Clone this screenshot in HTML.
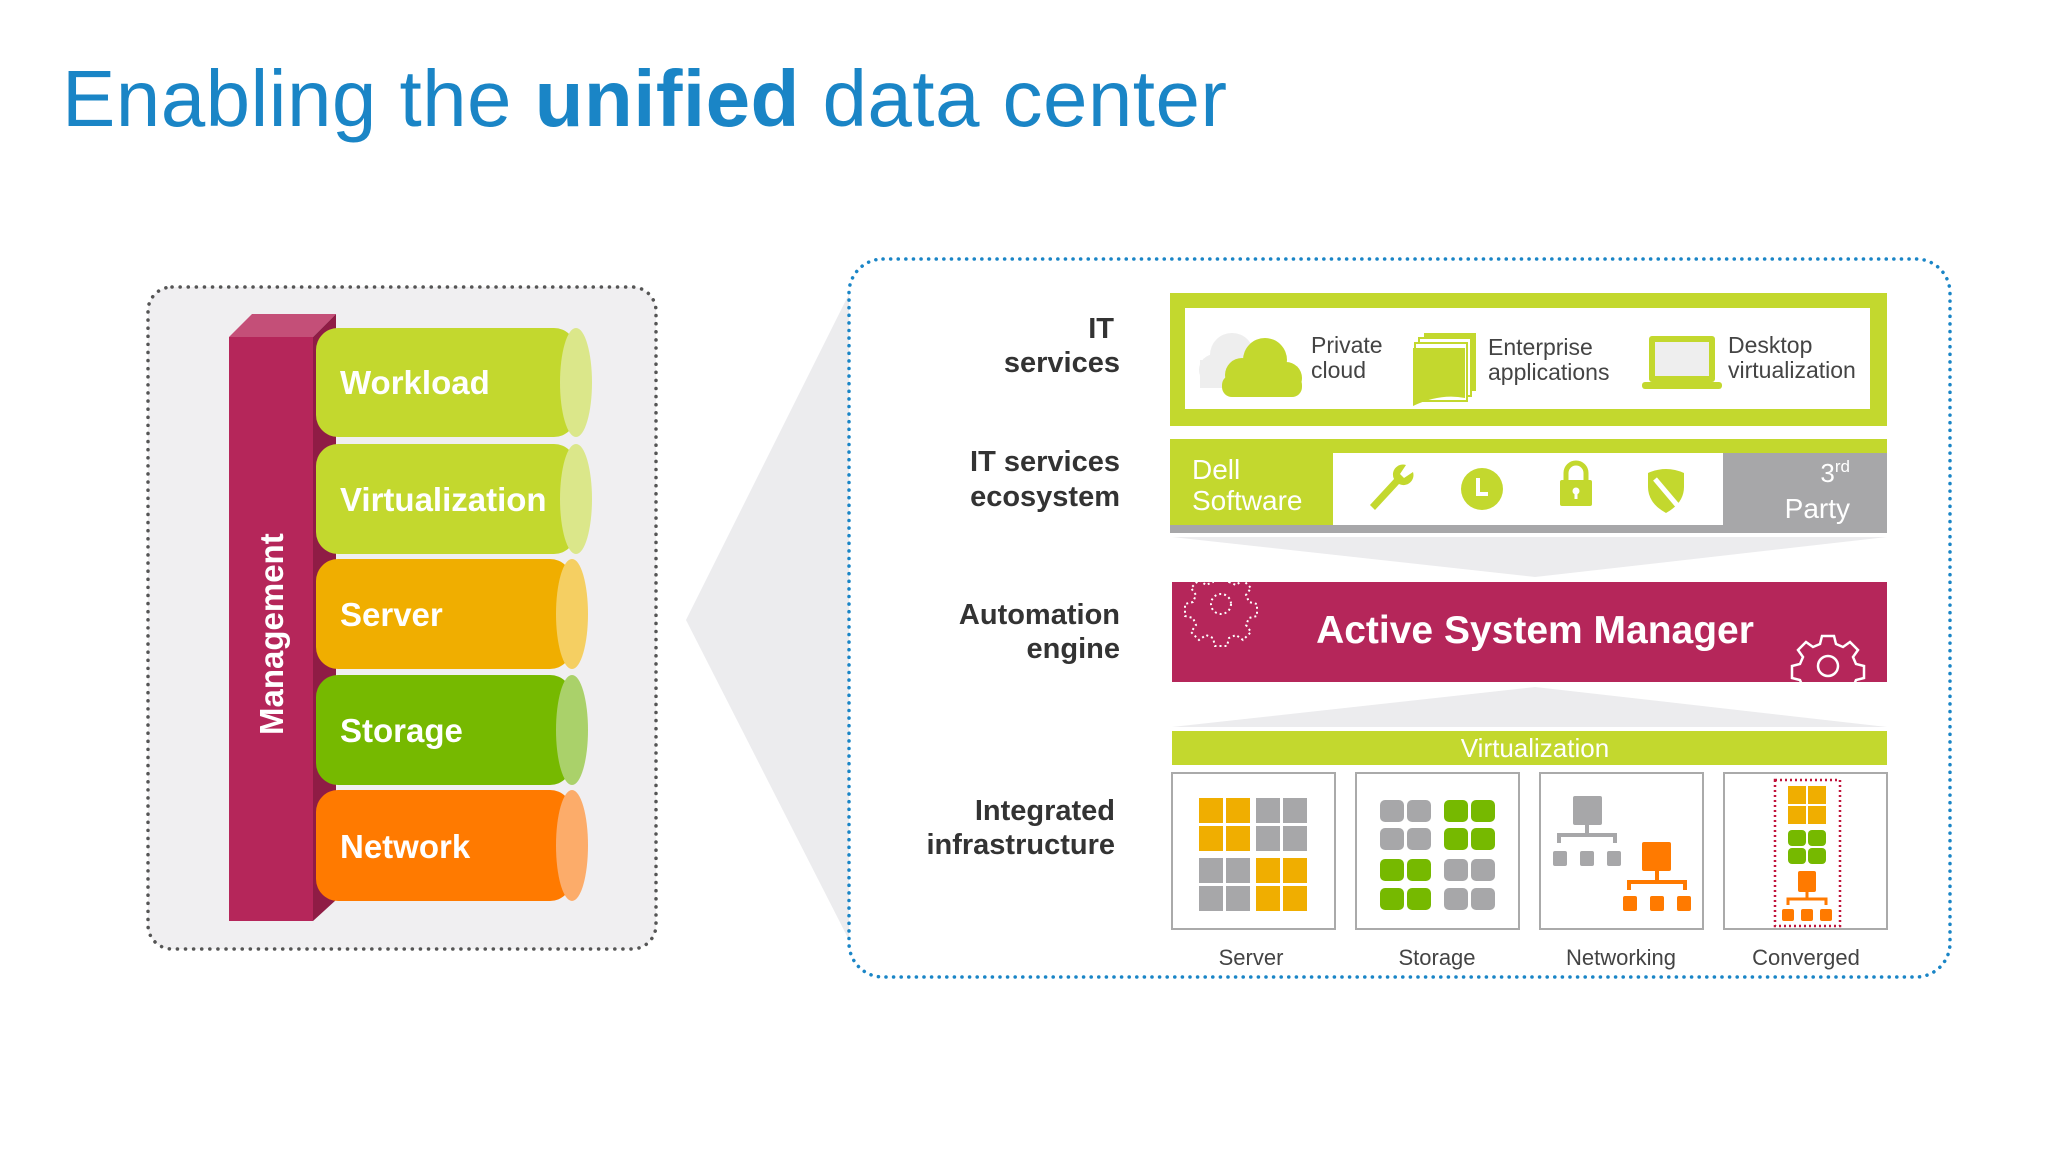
<!DOCTYPE html>
<html><head><meta charset="utf-8"><style>
html,body{margin:0;padding:0;background:#fff;}
svg{display:block;}
text{font-family:"Liberation Sans",sans-serif;}
</style></head><body>
<svg width="2048" height="1152" viewBox="0 0 2048 1152" xmlns="http://www.w3.org/2000/svg">
<rect width="2048" height="1152" fill="#ffffff"/>
<!-- title -->
<text x="62" y="126" font-size="80" fill="#1a85c6" textLength="1165" lengthAdjust="spacing">Enabling the <tspan font-weight="bold">unified</tspan> data center</text>

<!-- funnel -->
<polygon points="686,620 849,294 849,940" fill="#ececee"/>

<!-- left box -->
<rect x="148" y="287" width="508" height="662" rx="24" fill="#f0eff1" stroke="#555" stroke-width="3.5" stroke-dasharray="0.1 8" stroke-linecap="round"/>
<!-- management bar -->
<polygon points="229,337 252,314 336,314 313,337" fill="#c44f78"/>
<polygon points="313,337 336,314 336,900 313,921" fill="#8f1c45"/>
<rect x="229" y="337" width="84" height="584" fill="#b5265a"/>
<text transform="translate(283,735) rotate(-90)" font-size="33" font-weight="bold" fill="#fff">Management</text>

<!-- cylinders -->
<g>
<rect x="316" y="328" width="260" height="109" rx="22" fill="#c3d82e"/>
<ellipse cx="576" cy="382.5" rx="16" ry="54.5" fill="#dbe78a"/>
<text x="340" y="394" font-size="33" font-weight="bold" fill="#fff">Workload</text>

<rect x="316" y="444" width="260" height="110" rx="22" fill="#c3d82e"/>
<ellipse cx="576" cy="499" rx="16" ry="55" fill="#dbe78a"/>
<text x="340" y="511" font-size="33" font-weight="bold" fill="#fff">Virtualization</text>

<rect x="316" y="559" width="256" height="110" rx="22" fill="#f0ae00"/>
<ellipse cx="572" cy="614" rx="16" ry="55" fill="#f5cf62"/>
<text x="340" y="626" font-size="33" font-weight="bold" fill="#fff">Server</text>

<rect x="316" y="675" width="256" height="110" rx="22" fill="#76b900"/>
<ellipse cx="572" cy="730" rx="16" ry="55" fill="#aad16a"/>
<text x="340" y="742" font-size="33" font-weight="bold" fill="#fff">Storage</text>

<rect x="316" y="790" width="256" height="111" rx="22" fill="#ff7a00"/>
<ellipse cx="572" cy="845.5" rx="16" ry="55.5" fill="#fcac6a"/>
<text x="340" y="858" font-size="33" font-weight="bold" fill="#fff">Network</text>
</g>

<!-- right box -->
<rect x="849" y="259" width="1101" height="718" rx="34" fill="none" stroke="#1a85c6" stroke-width="3.5" stroke-dasharray="0.1 7.5" stroke-linecap="round"/>

<!-- left labels -->
<g font-size="29" fill="#333" text-anchor="end" font-weight="bold">
<text x="1114" y="338">IT</text>
<text x="1120" y="372">services</text>
<text x="1120" y="471">IT services</text>
<text x="1120" y="506">ecosystem</text>
<text x="1120" y="624">Automation</text>
<text x="1120" y="658">engine</text>
<text x="1115" y="820">Integrated</text>
<text x="1115" y="854">infrastructure</text>
</g>

<!-- IT services box -->
<rect x="1170" y="293" width="717" height="133" fill="#c3d82e"/>
<rect x="1185" y="308" width="685" height="101" fill="#fff"/>
<g>
<circle cx="1232" cy="355" r="22" fill="#eeeeee"/>
<circle cx="1215" cy="370" r="16" fill="#eeeeee"/>
<rect x="1200" y="360" width="40" height="28" fill="#eeeeee"/>
<circle cx="1265" cy="360" r="22" fill="#c3d82e"/>
<circle cx="1242" cy="375" r="17" fill="#c3d82e"/>
<circle cx="1286" cy="378" r="16" fill="#c3d82e"/>
<rect x="1222" y="375" width="80" height="22" rx="10" fill="#c3d82e"/>
</g>
<text x="1311" y="353" font-size="23" fill="#444">Private</text>
<text x="1311" y="378" font-size="23" fill="#444">cloud</text>
<g>
<rect x="1424" y="333" width="52" height="58" fill="#c3d82e"/>
<rect x="1419" y="338" width="52" height="58" fill="#fff" stroke="#c3d82e" stroke-width="2"/>
<rect x="1415" y="343" width="52" height="58" fill="#fff" stroke="#c3d82e" stroke-width="2"/>
<path d="M1413,348 h52 v50 q-25,-5 -52,8 z" fill="#c3d82e"/>
</g>
<text x="1488" y="355" font-size="23" fill="#444">Enterprise</text>
<text x="1488" y="380" font-size="23" fill="#444">applications</text>
<g>
<rect x="1649" y="336" width="66" height="46" rx="3" fill="#c3d82e"/>
<rect x="1655" y="342" width="54" height="34" fill="#eeeeee"/>
<rect x="1642" y="382" width="80" height="7" rx="3" fill="#c3d82e"/>
</g>
<text x="1728" y="353" font-size="23" fill="#444">Desktop</text>
<text x="1728" y="378" font-size="23" fill="#444">virtualization</text>

<!-- ecosystem -->
<rect x="1170" y="439" width="717" height="94" fill="#a7a7a9"/>
<rect x="1170" y="439" width="717" height="14" fill="#c3d82e"/>
<rect x="1170" y="439" width="163" height="86" fill="#c3d82e"/>
<rect x="1333" y="453" width="390" height="72" fill="#fff"/>
<text x="1192" y="479" font-size="28" fill="#fff">Dell</text>
<text x="1192" y="510" font-size="28" fill="#fff">Software</text>
<text x="1850" y="482" font-size="26" fill="#fff" text-anchor="end">3<tspan font-size="17" dy="-10">rd</tspan></text>
<text x="1850" y="518" font-size="28" fill="#fff" text-anchor="end">Party</text>
<g fill="#c3d82e">
<path d="M1370,505 l24,-26 a10,10 0 0 1 12,-14 l-6,9 4,4 9,-6 a10,10 0 0 1 -14,12 l-24,26 z"/>
<circle cx="1482" cy="489" r="21"/>
<rect x="1560" y="480" width="32" height="26" rx="2"/>
<path d="M1566,481 v-8 a10,10 0 0 1 20,0 v8" fill="none" stroke="#c3d82e" stroke-width="5"/>
<path d="M1648,473 q18,-8 36,0 v14 q0,16 -18,26 q-18,-10 -18,-26 z"/>
</g>
<path d="M1478,478 v16 h10" fill="none" stroke="#fff" stroke-width="4"/>
<circle cx="1576" cy="491" r="3.5" fill="#fff"/><rect x="1574.5" y="491" width="3" height="8" fill="#fff"/>
<path d="M1655,479 l22,26" stroke="#fff" stroke-width="5"/>

<!-- chevron down -->
<polygon points="1172,537 1887,537 1535,577" fill="#ececee"/>
<!-- ASM -->
<rect x="1172" y="582" width="715" height="100" fill="#b5265a"/>
<text x="1535" y="643" font-size="39" font-weight="bold" fill="#fff" text-anchor="middle">Active System Manager</text>
<g fill="none" stroke="#fff" stroke-width="2" stroke-dasharray="2 3">
<path d="M1215,574 h12 l2,8 7,3 7,-5 8,8 -5,7 3,7 8,2 v12 l-8,2 -3,7 5,7 -8,8 -7,-5 -7,3 -2,8 h-12 l-2,-8 -7,-3 -7,5 -8,-8 5,-7 -3,-7 -8,-2 v-12 l8,-2 3,-7 -5,-7 8,-8 7,5 7,-3 z"/>
<circle cx="1221" cy="604" r="10"/>
</g>
<g fill="none" stroke="#fff" stroke-width="2.5">
<path d="M1822,636 h12 l2,8 7,3 7,-5 8,8 -5,7 3,7 8,2 v12 l-8,2 -3,7 5,7 -8,8 -7,-5 -7,3 -2,8 h-12 l-2,-8 -7,-3 -7,5 -8,-8 5,-7 -3,-7 -8,-2 v-12 l8,-2 3,-7 -5,-7 8,-8 7,5 7,-3 z"/>
<circle cx="1828" cy="666" r="10"/>
</g>
<!-- chevron up -->
<polygon points="1172,727 1887,727 1535,687" fill="#ececee"/>
<rect x="1172" y="731" width="715" height="34" fill="#c3d82e"/>
<text x="1535" y="757" font-size="26" fill="#fff" text-anchor="middle">Virtualization</text>

<g fill="#fff" stroke="#aaa" stroke-width="2">
<rect x="1172" y="773" width="163" height="156"/>
<rect x="1356" y="773" width="163" height="156"/>
<rect x="1540" y="773" width="163" height="156"/>
<rect x="1724" y="773" width="163" height="156"/>
</g>
<g>
<g fill="#f0ae00"><rect x="1199" y="798" width="24" height="25"/><rect x="1226" y="798" width="24" height="25"/><rect x="1199" y="826" width="24" height="25"/><rect x="1226" y="826" width="24" height="25"/>
<rect x="1256" y="858" width="24" height="25"/><rect x="1283" y="858" width="24" height="25"/><rect x="1256" y="886" width="24" height="25"/><rect x="1283" y="886" width="24" height="25"/></g>
<g fill="#a7a7a9"><rect x="1256" y="798" width="24" height="25"/><rect x="1283" y="798" width="24" height="25"/><rect x="1256" y="826" width="24" height="25"/><rect x="1283" y="826" width="24" height="25"/>
<rect x="1199" y="858" width="24" height="25"/><rect x="1226" y="858" width="24" height="25"/><rect x="1199" y="886" width="24" height="25"/><rect x="1226" y="886" width="24" height="25"/></g>
</g>
<g>
<g fill="#a7a7a9"><rect x="1380" y="800" width="24" height="22" rx="5"/><rect x="1407" y="800" width="24" height="22" rx="5"/><rect x="1380" y="828" width="24" height="22" rx="5"/><rect x="1407" y="828" width="24" height="22" rx="5"/>
<rect x="1444" y="859" width="24" height="22" rx="5"/><rect x="1471" y="859" width="24" height="22" rx="5"/><rect x="1444" y="888" width="24" height="22" rx="5"/><rect x="1471" y="888" width="24" height="22" rx="5"/></g>
<g fill="#76b900"><rect x="1444" y="800" width="24" height="22" rx="5"/><rect x="1471" y="800" width="24" height="22" rx="5"/><rect x="1444" y="828" width="24" height="22" rx="5"/><rect x="1471" y="828" width="24" height="22" rx="5"/>
<rect x="1380" y="859" width="24" height="22" rx="5"/><rect x="1407" y="859" width="24" height="22" rx="5"/><rect x="1380" y="888" width="24" height="22" rx="5"/><rect x="1407" y="888" width="24" height="22" rx="5"/></g>
</g>
<g>
<rect x="1573" y="796" width="29" height="29" rx="2" fill="#a7a7a9"/>
<path d="M1559,843 v-8 h56 v8 M1587,825 v10" fill="none" stroke="#a7a7a9" stroke-width="4"/>
<rect x="1553" y="851" width="14" height="15" rx="2" fill="#a7a7a9"/><rect x="1580" y="851" width="14" height="15" rx="2" fill="#a7a7a9"/><rect x="1607" y="851" width="14" height="15" rx="2" fill="#a7a7a9"/>
<rect x="1642" y="842" width="29" height="29" rx="2" fill="#ff7a00"/>
<path d="M1629,890 v-8 h56 v8 M1657,871 v11" fill="none" stroke="#ff7a00" stroke-width="4"/>
<rect x="1623" y="896" width="14" height="15" rx="2" fill="#ff7a00"/><rect x="1650" y="896" width="14" height="15" rx="2" fill="#ff7a00"/><rect x="1677" y="896" width="14" height="15" rx="2" fill="#ff7a00"/>
</g>
<g>
<rect x="1775" y="780" width="65" height="146" fill="none" stroke="#c0143c" stroke-width="2.5" stroke-dasharray="2 3"/>
<g fill="#f0ae00"><rect x="1788" y="786" width="18" height="18"/><rect x="1808" y="786" width="18" height="18"/><rect x="1788" y="806" width="18" height="18"/><rect x="1808" y="806" width="18" height="18"/></g>
<g fill="#76b900"><rect x="1788" y="830" width="18" height="16" rx="4"/><rect x="1808" y="830" width="18" height="16" rx="4"/><rect x="1788" y="848" width="18" height="16" rx="4"/><rect x="1808" y="848" width="18" height="16" rx="4"/></g>
<rect x="1798" y="871" width="18" height="21" rx="2" fill="#ff7a00"/>
<path d="M1788,905 v-6 h38 v6 M1807,892 v7" fill="none" stroke="#ff7a00" stroke-width="3"/>
<rect x="1782" y="909" width="12" height="12" rx="2" fill="#ff7a00"/><rect x="1801" y="909" width="12" height="12" rx="2" fill="#ff7a00"/><rect x="1820" y="909" width="12" height="12" rx="2" fill="#ff7a00"/>
</g>
<g font-size="22" fill="#444" text-anchor="middle">
<text x="1251" y="965">Server</text>
<text x="1437" y="965">Storage</text>
<text x="1621" y="965">Networking</text>
<text x="1806" y="965">Converged</text>
</g>
</svg>
</body></html>
